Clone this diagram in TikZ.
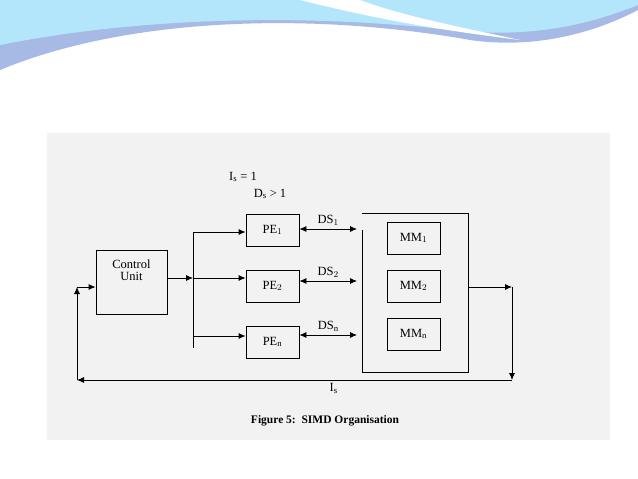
\documentclass[tikz,border=0pt]{standalone}
\usepackage{fontspec}
\setmainfont{Liberation Serif}
\usetikzlibrary{arrows.meta}
\begin{document}
\begin{tikzpicture}[x=1pt,y=-1pt,font=\fontsize{12.5}{14}\selectfont,
  blk/.style={draw,thick,minimum width=53pt,minimum height=32pt,inner sep=0pt},
  arr/.style={thick,-{Latex[length=7pt,width=6pt]}},
  darr/.style={thick,{Latex[length=7pt,width=6pt]}-{Latex[length=7pt,width=6pt]}}]
\useasboundingbox (0,0) rectangle (638,479);
% slide background and top wave
\fill[white] (0,0) rectangle (638,479);
\fill[cyan!45!blue!35] (0,0) -- (0,70) .. controls (120,20) and (300,10) .. (470,40) .. controls (540,50) and (600,30) .. (638,10) -- (638,0) -- cycle;
\fill[cyan!30!white] (0,0) -- (0,45) .. controls (150,15) and (320,15) .. (450,30) .. controls (540,40) and (600,20) .. (638,5) -- (638,0) -- cycle;
\fill[white] (300,0) .. controls (380,20) and (440,30) .. (520,40) .. controls (450,25) and (400,15) .. (360,0) -- cycle;
\fill[black!5] (47,133) rectangle (610,440);
% blocks
\node[blk,minimum width=71pt,minimum height=64pt,align=center] (cu) at (131.5,282) {Control\\[-2pt]Unit\\[10pt]};
\node[blk] (pe1) at (272.5,230) {PE$_1$};
\node[blk] (pe2) at (272.5,286) {PE$_2$};
\node[blk] (pen) at (272.5,342) {PE$_\mathrm{n}$};
\node[blk] (mm1) at (413.5,238) {MM$_1$};
\node[blk] (mm2) at (413.5,286) {MM$_2$};
\node[blk] (mmn) at (413.5,334) {MM$_\mathrm{n}$};
% memory frame
\draw[thick] (362,230) -- (362,372) -- (468,372) -- (468,213) -- (362,213);
% bus
\coordinate (bus) at (193,278);
\draw[arr] (cu.east |- bus) -- (bus);
\draw[thick] (193,232) -- (193,348);
\draw[arr] (193,232) -- (pe1.west |- 0,232);
\draw[arr] (193,278) -- (pe2.west |- 0,278);
\draw[arr] (193,336) -- (pen.west |- 0,336);
\draw[darr] (pe1.east |- 0,229) -- (357,229) node[midway,above] {DS$_1$};
\draw[darr] (pe2.east |- 0,281) -- (357,281) node[midway,above] {DS$_2$};
\draw[darr] (pen.east |- 0,335) -- (357,335) node[midway,above] {DS$_\mathrm{n}$};
% feedback loop
\coordinate (o1) at (512,287);
\coordinate (o2) at (512,380);
\coordinate (o3) at (77,380);
\coordinate (o4) at (77,287);
\draw[arr] (468,287) -- (o1);
\draw[arr] (o1) -- (o2);
\draw[arr] (o2) -- (o3) node[pos=0.41,below] {I$_\mathrm{s}$};
\draw[arr] (o3) -- (o4);
\draw[arr] (o4) -- (cu.west |- o4);
% labels
\node at (243,177) {I$_\mathrm{s}$ = 1};
\node at (270,194) {D$_\mathrm{s}$ > 1};
\node[font=\fontsize{11.5}{13}\selectfont\bfseries] at (325,421) {Figure 5:\ \ SIMD Organisation};
\end{tikzpicture}
\end{document}
